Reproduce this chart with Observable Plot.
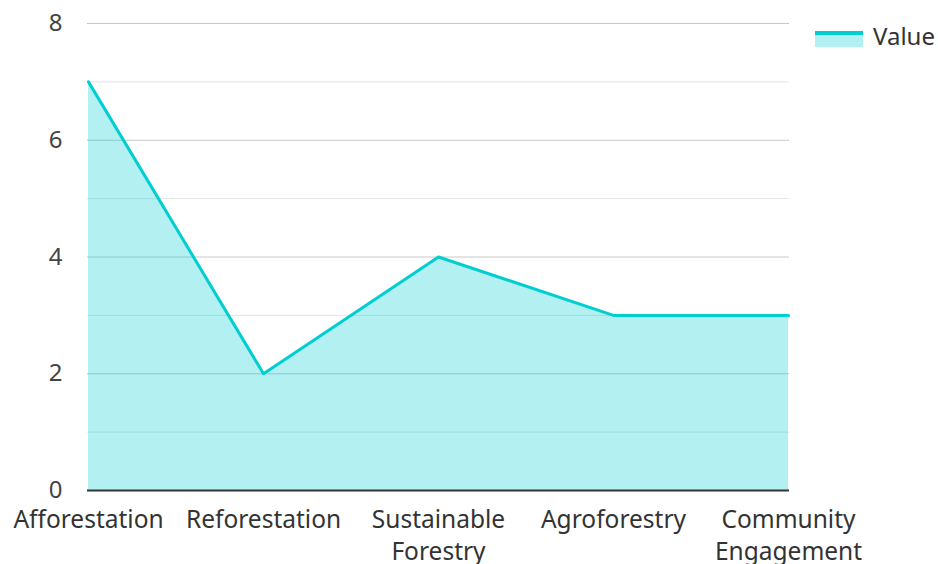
<!DOCTYPE html>
<html>
<head>
<meta charset="utf-8">
<script src="https://cdn.jsdelivr.net/npm/d3@7"></script>
<script src="https://cdn.jsdelivr.net/npm/@observablehq/plot@0.6"></script>
<style>
  html, body { margin: 0; padding: 0; background: #fff; }
  #wrap { position: relative; width: 938px; height: 564px; font-family: "Noto Sans", "Open Sans", sans-serif; }
  #legend { position: absolute; left: 815px; top: 19px; display: flex; align-items: center; font-size: 24px; color: #333; }
  #legend .sw { width: 48px; height: 16px; background: rgba(0,206,209,0.3); border-top: 4px solid #00ced1; box-sizing: border-box; margin-right: 10px; margin-top: 6px; }
</style>
</head>
<body>
<div id="wrap"><div id="legend"><div class="sw"></div><span>Value</span></div></div>
<script>
const categories = ["Afforestation", "Reforestation", "Sustainable Forestry", "Agroforestry", "Community Engagement"];
const values = [7, 2, 4, 3, 3];
const majorTicks = [0, 2, 4, 6, 8];
const minorTicks = [1, 3, 5, 7];
const tickLabels = {"Afforestation": "Afforestation", "Reforestation": "Reforestation", "Sustainable Forestry": "Sustainable\nForestry", "Agroforestry": "Agroforestry", "Community Engagement": "Community\nEngagement"};
const seriesName = "Value";

const data = categories.map((c, i) => ({category: c, value: values[i]}));
const color = "#00ced1";

const chart = Plot.plot({
  width: 938,
  height: 564,
  marginLeft: 87,
  marginRight: 149,
  marginTop: 23,
  marginBottom: 74,
  style: {fontFamily: "'Noto Sans', 'Open Sans', sans-serif", fontSize: "24px", color: "#444", background: "transparent"},
  x: {type: "point", domain: categories, padding: 0},
  y: {domain: [0, 8]},
  marks: [
    Plot.ruleY(minorTicks, {stroke: "#e4e4e4", strokeWidth: 1}),
    Plot.ruleY(majorTicks.filter(d => d > 0), {stroke: "#c8c8c8", strokeWidth: 1}),
    Plot.areaY(data, {x: "category", y: "value", fill: color, fillOpacity: 0.3}),
    Plot.lineY(data, {x: "category", y: "value", stroke: color, strokeWidth: 3}),
    Plot.ruleY([0], {stroke: "#333", strokeWidth: 2}),
    Plot.axisY({ticks: majorTicks, tickSize: 0, tickPadding: 25, label: null, fontSize: 24, fill: "#444"}),
    Plot.axisX({tickSize: 0, tickPadding: 14, label: null, tickFormat: d => tickLabels[d], lineHeight: 1.33, fontSize: 24.5, fill: "#333", textOverflow: null})
  ]
});
document.getElementById("wrap").prepend(chart);
chart.style.position = "absolute";
chart.style.left = "0";
chart.style.top = "0";
</script>
</body>
</html>
